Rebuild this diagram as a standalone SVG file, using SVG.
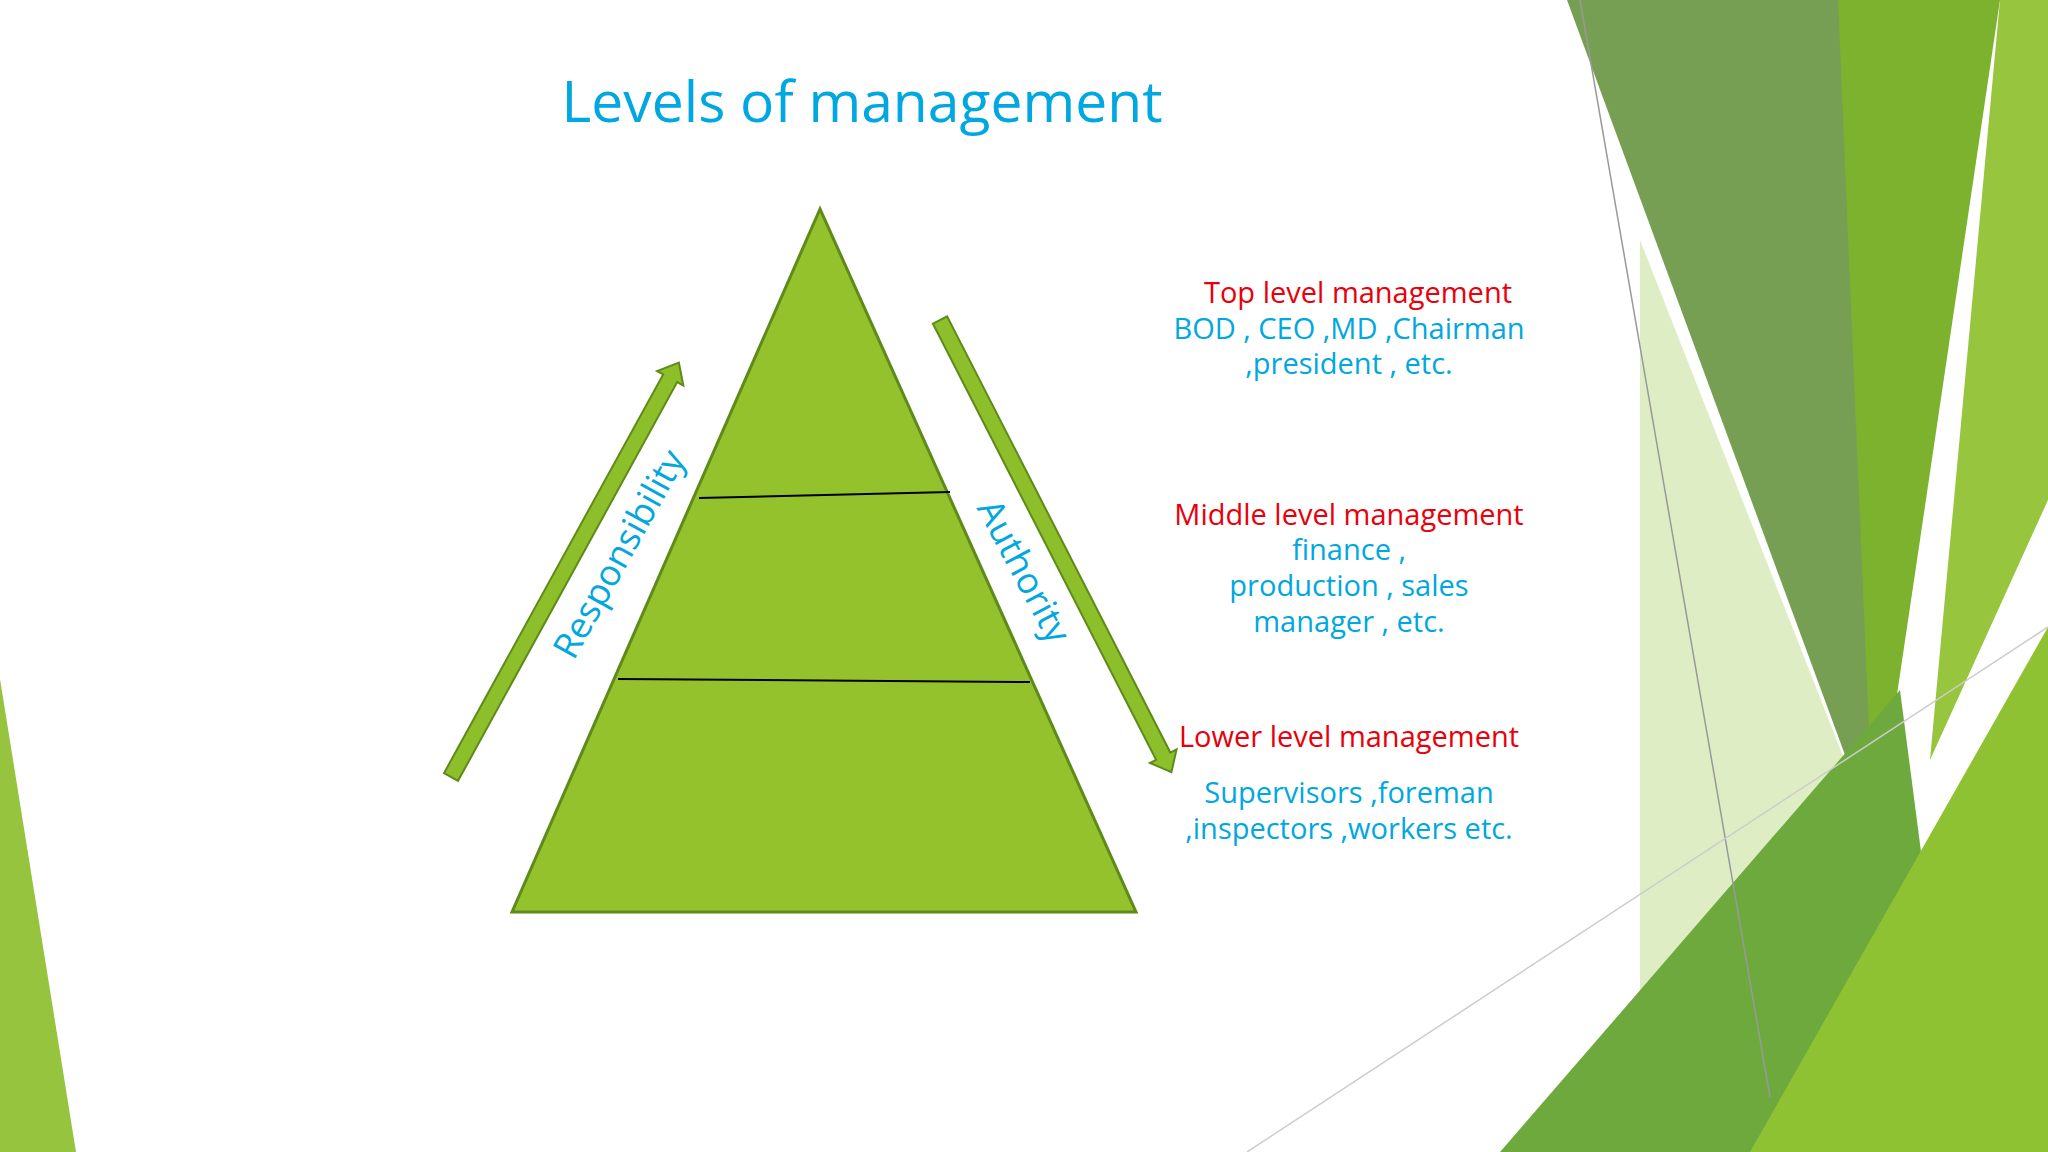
<svg xmlns="http://www.w3.org/2000/svg" width="2048" height="1152" viewBox="0 0 2048 1152">
<style>
.r{font-family:"Open Sans","Liberation Sans",sans-serif;font-size:29px;fill:#e8000b;text-anchor:middle}
.b{font-family:"Open Sans","Liberation Sans",sans-serif;font-size:29px;fill:#00a7e0;text-anchor:middle}
.arr{fill:#8cbf2a;stroke:#5e8a1a;stroke-width:2}
</style>
<rect width="2048" height="1152" fill="#fff"/>
<g id="background">
<polygon points="1567,0 1855,0 1880,850" fill="#6f9a4a" opacity="0.95"/>
<polygon points="1838,0 2000,0 1920,540 1874,849" fill="#7db22f"/>
<polygon points="2000,0 2048,0 2048,500 1930,760" fill="#97c53d"/>
<polygon points="1640,240 1880,850 1800,1152 1640,1152" fill="#c9e19c" opacity="0.6"/>
<polygon points="1500,1152 1900,690 1960,1152" fill="#6ea93e"/>
<polygon points="1750,1152 2048,627 2048,1152" fill="#8fc232"/>
<polygon points="0,679 76,1152 0,1152" fill="#96c43f"/>
<line x1="1580" y1="0" x2="1770" y2="1097" stroke="#999" stroke-width="1.5"/>
<line x1="1247" y1="1152" x2="2048" y2="627" stroke="#ccc" stroke-width="1.5"/>
</g>
<text x="862" y="122" font-family="Open Sans, Liberation Sans, sans-serif" font-size="57" fill="#00a7e0" text-anchor="middle">Levels of management</text>
<g id="pyramid">
<polygon points="820,209 512,912 1136,912" fill="#93c22c" stroke="#5e8a1a" stroke-width="3"/>
<line x1="699" y1="498" x2="950" y2="492" stroke="#000" stroke-width="2"/>
<line x1="618" y1="679" x2="1030" y2="682" stroke="#000" stroke-width="2"/>
</g>
<g id="connectors">
<g transform="translate(451,777) rotate(-61.2)">
<polygon class="arr" points="0,-8 455,-8 455,-15 473,0 455,15 455,8 0,8"/>
</g>
<g transform="translate(940,320) rotate(62.9)">
<polygon class="arr" points="0,-8 490,-8 490,-15 508,0 490,15 490,8 0,8"/>
</g>
</g>
<text class="b" font-size="36" style="font-size:36px" transform="translate(630,560) rotate(-61)">Responsibility</text>
<text class="b" style="font-size:36px" transform="translate(1013,577) rotate(62)">Authority</text>
<g id="top"><text class="r" x="1358" y="303">Top level management</text>
<text class="b" x="1349" y="339">BOD , CEO ,MD ,Chairman</text>
<text class="b" x="1349" y="374">,president , etc.</text></g>
<g id="middle"><text class="r" x="1349" y="525">Middle level management</text>
<text class="b" x="1349" y="560">finance ,</text>
<text class="b" x="1349" y="596">production , sales</text>
<text class="b" x="1349" y="632">manager , etc.</text></g>
<g id="lower"><text class="r" x="1349" y="747">Lower level management</text>
<text class="b" x="1349" y="803">Supervisors ,foreman</text>
<text class="b" x="1349" y="839">,inspectors ,workers  etc.</text></g>
</svg>
